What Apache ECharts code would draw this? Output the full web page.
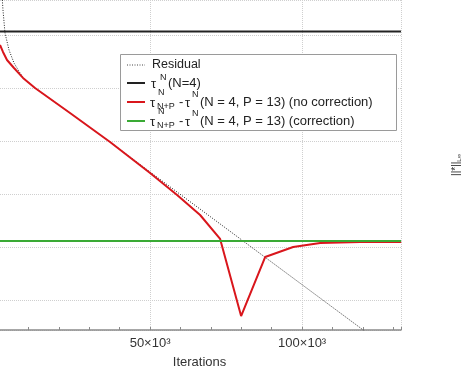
<!DOCTYPE html>
<html>
<head>
<meta charset="utf-8">
<script src="https://cdn.jsdelivr.net/npm/echarts@6/dist/echarts.min.js"></script>
<style>
html,body{margin:0;padding:0;background:#fff;}
#chart{width:474px;height:384px;}
</style>
</head>
<body>
<div id="chart"></div>
<script>
// ---- data ----
const iterResidual = [990, 1640, 2300, 3620, 5260, 8220, 12170, 23680, 36840, 50000, 120070, 122370];
const residual     = [1.09e-2, 2.96e-3, 1.09e-3, 5.21e-4, 2.96e-4, 1.55e-4, 1.00e-4, 3.37e-5, 9.57e-6, 2.60e-6, 2.72e-9, 2.19e-9];

const iterNoCorr = [660, 1640, 2960, 5260, 8220, 12170, 23680, 36840, 50000, 58880, 66450, 73030, 79930, 87830, 97040, 105920, 119080, 132570];
const noCorr     = [6.47e-4, 4.78e-4, 3.37e-4, 2.38e-4, 1.55e-4, 1.00e-4, 3.37e-5, 9.57e-6, 2.49e-6, 9.57e-7, 4.02e-7, 1.42e-7, 4.99e-9, 6.47e-8, 1.00e-7, 1.19e-7, 1.24e-7, 1.24e-7];

const iterSpan  = [0, 132500];
const tauN      = [1.16e-3, 1.16e-3];
const corrected = [1.30e-7, 1.30e-7];

const xMajorTicks = [50000, 100000];
const xTickLabels = ['50×10³', '100×10³'];

const pairs = (xs, ys) => xs.map((x, i) => [x, ys[i]]);

const FONT = '"Liberation Sans", Arial, Helvetica, sans-serif';
const chart = echarts.init(document.getElementById('chart'));

const yMin = 2.72e-9, yMax = 4.57e-3;

// legend built as graphic elements (stacked super/subscripts)
const lx = 152, rows = [65, 83, 102, 121];
function txt(x, y, s, size, extra) {
  return Object.assign({type: 'text', x: x, y: y, style: {text: s, font: size + 'px ' + FONT, fill: '#222', verticalAlign: 'middle', align: 'left'}, z: 110}, extra || {});
}
function sym(y, color, width, dash) {
  return {type: 'line', shape: {x1: 127, y1: y, x2: 145, y2: y}, style: {stroke: color, lineWidth: width, lineDash: dash || null}, z: 110};
}
const legendEls = [
  {type: 'rect', shape: {x: 120.5, y: 54.5, width: 276, height: 76}, style: {fill: '#fff', stroke: '#9a9a9a', lineWidth: 1}, z: 100},
  sym(rows[0], '#444', 1, [1, 1.5]),
  sym(rows[1], '#222', 2),
  sym(rows[2], '#d9161c', 2),
  sym(rows[3], '#3aaa35', 2),
  txt(lx, rows[0], 'Residual', 12.5),
  txt(lx - 1, rows[1] + 1, 'τ', 13),
  txt(lx + 8, rows[1] - 5, 'N', 9),
  txt(lx + 16, rows[1], '(N=4)', 13)
];
[[rows[2], '(N = 4, P = 13) (no correction)'], [rows[3], '(N = 4, P = 13) (correction)']].forEach(([y, s]) => {
  legendEls.push(txt(lx - 2, y + 1, 'τ', 13));
  legendEls.push(txt(lx + 6, y - 9, 'N', 9));
  legendEls.push(txt(lx + 5, y + 5, 'N+P', 9));
  legendEls.push(txt(lx + 27, y, '-', 13));
  legendEls.push(txt(lx + 33, y + 1, 'τ', 13));
  legendEls.push(txt(lx + 40, y - 7, 'N', 9));
  legendEls.push(txt(lx + 48, y, s, 13));
});

const option = {
  animation: false,
  backgroundColor: '#fff',
  textStyle: {fontFamily: FONT},
  grid: {left: -2, right: 73, top: 0, bottom: 54, containLabel: false, outerBoundsMode: 'none'},
  xAxis: [
    {
      type: 'value', min: iterSpan[0], max: iterSpan[1], interval: 50000, position: 'bottom',
      axisLine: {show: true, onZero: false, lineStyle: {color: '#8a8a8a', width: 1.5}},
      axisTick: {show: false},
      axisLabel: {
        color: '#333', fontSize: 13, margin: 7, fontFamily: FONT,
        formatter: v => { const i = xMajorTicks.indexOf(v); return i >= 0 ? xTickLabels[i] : ''; }
      },
      splitLine: {show: true, lineStyle: {color: '#cfcfcf', type: 'dotted', width: 1}},
      name: 'Iterations', nameLocation: 'middle', nameGap: 26,
      nameTextStyle: {color: '#333', fontSize: 13, fontFamily: FONT}
    },
    {
      type: 'value', min: iterSpan[0], max: iterSpan[1], interval: 10000, position: 'bottom',
      axisLine: {show: false, onZero: false},
      axisTick: {show: true, inside: true, length: 3, lineStyle: {color: '#8a8a8a'}},
      axisLabel: {show: false}, splitLine: {show: false}
    }
  ],
  yAxis: [
    {
      type: 'log', min: yMin, max: yMax, logBase: 10, position: 'left',
      axisLine: {show: false}, axisTick: {show: false}, axisLabel: {show: false},
      splitLine: {show: true, lineStyle: {color: '#cfcfcf', type: 'dotted', width: 1}}
    },
    {
      type: 'log', min: yMin, max: yMax, logBase: 10, position: 'right',
      axisLine: {show: true, lineStyle: {color: '#b0b0b0', width: 2}},
      axisTick: {show: false}, axisLabel: {show: false}, splitLine: {show: false}
    }
  ],
  series: [
    {name: 'Residual', type: 'line', xAxisIndex: 0, yAxisIndex: 0, symbol: 'none', data: pairs(iterResidual, residual),
      lineStyle: {color: '#222', width: 1, type: [1, 1.5]}, z: 2},
    {name: 'τN (N=4)', type: 'line', symbol: 'none', data: pairs(iterSpan, tauN),
      lineStyle: {color: '#222', width: 2}, z: 3},
    {name: 'no correction', type: 'line', symbol: 'none', data: pairs(iterNoCorr, noCorr),
      lineStyle: {color: '#d9161c', width: 2}, z: 4},
    {name: 'correction', type: 'line', symbol: 'none', data: pairs(iterSpan, corrected),
      lineStyle: {color: '#3aaa35', width: 1.8}, z: 5}
  ],
  graphic: legendEls.concat([
    {type: 'text', x: 456, y: 165, rotation: Math.PI / 2,
      style: {text: '{a|||*||}{b|L∞}', align: 'center', verticalAlign: 'middle',
        rich: {a: {fontSize: 10, fontFamily: FONT, fill: '#222', color: '#222'},
               b: {fontSize: 6, fontFamily: FONT, color: '#222', fill: '#222', verticalAlign: 'bottom', padding: [6, 0, 0, 0]}}}, z: 100}
  ])
};
chart.setOption(option);
</script>
</body>
</html>
